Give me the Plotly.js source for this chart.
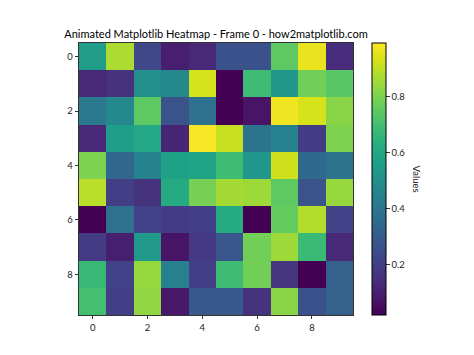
<!DOCTYPE html>
<html>
<head>
<meta charset="utf-8">
<script src="https://cdn.plot.ly/plotly-3.0.1.min.js"></script>
<style>html,body{margin:0;padding:0;background:#fff;}#chart{width:474px;height:355px;}</style>
</head>
<body>
<div id="chart"></div>
<script>
const xLabels = [0,1,2,3,4,5,6,7,8,9];
const yLabels = [0,1,2,3,4,5,6,7,8,9];
const row0 = [0.55,0.87,0.23,0.10,0.13,0.26,0.26,0.75,0.96,0.14];
const row1 = [0.13,0.16,0.50,0.47,0.93,0.02,0.69,0.53,0.78,0.74];
const row2 = [0.41,0.47,0.75,0.27,0.38,0.02,0.07,0.97,0.93,0.82];
const row3 = [0.13,0.56,0.60,0.12,0.98,0.91,0.39,0.44,0.19,0.80];
const row4 = [0.80,0.34,0.45,0.57,0.58,0.69,0.53,0.92,0.35,0.39];
const row5 = [0.89,0.20,0.16,0.61,0.79,0.86,0.85,0.75,0.27,0.84];
const row6 = [0.02,0.38,0.21,0.19,0.20,0.62,0.02,0.76,0.88,0.21];
const row7 = [0.19,0.10,0.54,0.07,0.18,0.28,0.78,0.85,0.68,0.13];
const row8 = [0.67,0.21,0.84,0.44,0.20,0.69,0.78,0.17,0.02,0.32];
const row9 = [0.70,0.20,0.83,0.08,0.29,0.29,0.16,0.82,0.26,0.32];
const values = [row0,row1,row2,row3,row4,row5,row6,row7,row8,row9];
const axisTicks = [0,2,4,6,8];
const cbTicks = [0.2,0.4,0.6,0.8];

const fam = 'Lato, Open Sans, sans-serif';
const trace = {
  type: 'heatmap',
  x: xLabels, y: yLabels, z: values,
  colorscale: 'Viridis',
  zmin: 0.02, zmax: 0.99,
  xgap: 0, ygap: 0,
  colorbar: {
    x: 1.069, xanchor: 'left', xref: 'paper',
    y: 0.5, yanchor: 'middle', len: 1.0, lenmode: 'fraction',
    thickness: 14, thicknessmode: 'pixels',
    outlinewidth: 1, outlinecolor: '#000',
    tickvals: cbTicks, ticktext: cbTicks.map(v => v.toFixed(1)),
    ticks: 'outside', ticklen: 3.5, tickwidth: 0.8, tickcolor: '#000',
    tickfont: {family: fam, size: 9.5, color: '#222'},
    xpad: 0, ypad: 0
  }
};
const layout = {
  width: 474, height: 355,
  margin: {l: 79, r: 121, t: 43, b: 40, pad: 0},
  paper_bgcolor: '#fff', plot_bgcolor: '#fff',
  title: {text: 'Animated Matplotlib Heatmap - Frame 0 - how2matplotlib.com',
    font: {family: fam, size: 11, color: '#000'},
    x: 0.5, xref: 'paper', xanchor: 'center', y: 1, yref: 'paper', yanchor: 'bottom', pad: {b: 5}},
  annotations: [{text: 'Values', xref: 'paper', yref: 'paper', x: 1.235, y: 0.5,
    xanchor: 'center', yanchor: 'middle', textangle: 90, showarrow: false,
    font: {family: fam, size: 9.5, color: '#222'}}],
  xaxis: {range: [-0.5, 9.5], tickvals: axisTicks, ticks: 'outside', ticklen: 3.5, tickwidth: 0.8,
    tickcolor: '#000', showline: true, linecolor: '#000', linewidth: 0.8, mirror: true,
    showgrid: false, zeroline: false, tickfont: {family: fam, size: 9.5, color: '#222'}},
  yaxis: {range: [9.5, -0.5], tickvals: axisTicks, ticks: 'outside', ticklen: 3.5, tickwidth: 0.8,
    tickcolor: '#000', showline: true, linecolor: '#000', linewidth: 0.8, mirror: true,
    showgrid: false, zeroline: false, tickfont: {family: fam, size: 9.5, color: '#222'}}
};
Plotly.newPlot('chart', [trace], layout, {displayModeBar: false, staticPlot: true});
</script>
</body>
</html>
